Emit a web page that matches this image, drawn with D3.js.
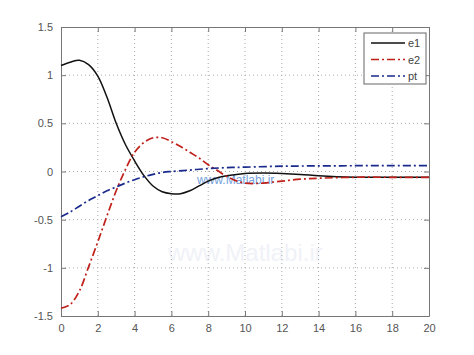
<!DOCTYPE html>
<html><head><meta charset="utf-8">
<script src="https://cdn.jsdelivr.net/npm/d3@7"></script>
<style>body{margin:0;background:#fff;}svg{display:block;}</style>
</head><body>
<svg id="c" width="474" height="355"></svg>
<script>
const xTicks = [0,2,4,6,8,10,12,14,16,18,20];
const yTicks = [-1.5,-1,-0.5,0,0.5,1,1.5];
const yTickLabels = ["-1.5","-1","-0.5","0","0.5","1","1.5"];
const seriesNames = ["e1","e2","pt"];
const tE1 = [0,0.5,1,1.5,2,2.5,3,3.5,4,4.5,5,5.5,6,6.5,7,7.5,8,8.5,9,10,11,12,13,14,15,16,18,20];
const e1 = [1.10,1.135,1.155,1.11,0.99,0.77,0.50,0.28,0.11,-0.04,-0.15,-0.21,-0.23,-0.23,-0.20,-0.15,-0.10,-0.065,-0.045,-0.02,-0.015,-0.02,-0.03,-0.045,-0.055,-0.06,-0.06,-0.06];
const tE2 = [0,0.5,1,1.5,2,2.5,3,3.5,4,4.5,5,5.5,6,6.5,7,7.5,8,8.5,9,9.5,10,10.5,11,12,13,14,16,18,20];
const e2 = [-1.42,-1.38,-1.24,-0.99,-0.73,-0.46,-0.20,0.02,0.20,0.30,0.35,0.35,0.31,0.26,0.20,0.14,0.07,0.01,-0.05,-0.095,-0.12,-0.125,-0.12,-0.10,-0.08,-0.07,-0.06,-0.06,-0.06];
const tPt = [0,0.5,1,1.5,2,2.5,3,3.5,4,4.5,5,5.5,6,7,8,9,10,12,14,16,18,20];
const pt = [-0.47,-0.42,-0.36,-0.30,-0.25,-0.20,-0.16,-0.12,-0.085,-0.055,-0.03,-0.01,0.0,0.015,0.03,0.04,0.045,0.055,0.058,0.06,0.06,0.06];

const svg = d3.select("#c");
const L=61, R=429, T=27, B=316;
const x = d3.scaleLinear().domain([0,20]).range([L,R]);
const y = d3.scaleLinear().domain([-1.5,1.5]).range([B,T]);
const font = "'Liberation Sans', Arial, sans-serif";

// watermark (faint)
svg.append("text").attr("x",168).attr("y",261).attr("font-family",font).attr("font-size",24)
  .attr("fill","#f0f2f7").text("www.Matlabi.ir");

// grid
const g = svg.append("g");
g.selectAll(".vg").data(xTicks.slice(1,-1)).join("line")
  .attr("x1",d=>x(d)).attr("x2",d=>x(d)).attr("y1",T).attr("y2",B)
  .attr("stroke","#aaa").attr("stroke-width",1).attr("stroke-dasharray","1,3");
g.selectAll(".hg").data(yTicks.slice(1,-1)).join("line")
  .attr("y1",d=>y(d)).attr("y2",d=>y(d)).attr("x1",L).attr("x2",R)
  .attr("stroke","#aaa").attr("stroke-width",1).attr("stroke-dasharray","1,3");

// watermark center
svg.append("text").attr("x",197).attr("y",184).attr("font-family",font).attr("font-size",12)
  .attr("fill","#5b8fd6").attr("opacity",0.85).text("www.Matlabi.ir");

// axes
const axB = d3.axisBottom(x).tickValues(xTicks).tickSizeInner(-5).tickSizeOuter(0).tickPadding(8);
const axL = d3.axisLeft(y).tickValues(yTicks).tickFormat((d,i)=>yTickLabels[i]).tickSizeInner(-5).tickSizeOuter(0).tickPadding(8);
const axT = d3.axisTop(x).tickValues(xTicks).tickSizeInner(-5).tickSizeOuter(0).tickFormat("");
const axR = d3.axisRight(y).tickValues(yTicks).tickSizeInner(-5).tickSizeOuter(0).tickFormat("");
function style(sel){
  sel.selectAll("path").attr("stroke","#777");
  sel.selectAll("line").attr("stroke","#777");
  sel.selectAll("text").attr("fill","#555").attr("font-family",font).attr("font-size",11);
}
svg.append("g").attr("transform",`translate(0,${B})`).call(axB).call(style);
svg.append("g").attr("transform",`translate(${L},0)`).call(axL).call(style);
svg.append("g").attr("transform",`translate(0,${T})`).call(axT).call(style);
svg.append("g").attr("transform",`translate(${R},0)`).call(axR).call(style);

// lines
const line = d3.line().x(d=>x(d[0])).y(d=>y(d[1])).curve(d3.curveCatmullRom.alpha(0.5));
const series = [
  {name:seriesNames[0], t:tE1, v:e1, color:"#111", dash:null, w:1.5},
  {name:seriesNames[1], t:tE2, v:e2, color:"#c0201a", dash:"8,3,2,3", w:1.7},
  {name:seriesNames[2], t:tPt, v:pt, color:"#1a2a8c", dash:"8,3,2,3", w:1.7}
];
series.forEach(s=>{
  svg.append("path").datum(s.t.map((t,i)=>[t,s.v[i]]))
    .attr("d",line).attr("fill","none").attr("stroke",s.color)
    .attr("stroke-width",s.w).attr("stroke-dasharray",s.dash);
});

// legend
const lg = svg.append("g");
lg.append("rect").attr("x",364).attr("y",33).attr("width",62).attr("height",51)
  .attr("fill","#fff").attr("stroke","#666").attr("stroke-width",1);
series.forEach((s,i)=>{
  const yy = 43 + i*16.5;
  lg.append("line").attr("x1",371).attr("x2",405).attr("y1",yy).attr("y2",yy)
    .attr("stroke",s.color).attr("stroke-width",s.w).attr("stroke-dasharray",s.dash);
  lg.append("text").attr("x",408).attr("y",yy+4).attr("font-family",font).attr("font-size",11)
    .attr("fill","#444").text(s.name);
});
</script>
</body></html>
